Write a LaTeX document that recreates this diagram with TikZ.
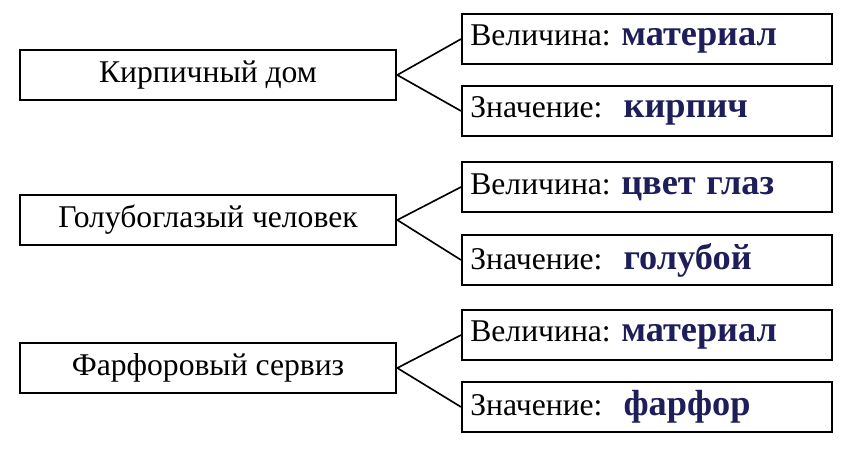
\documentclass[tikz,border=0pt]{standalone}
\usepackage{fontspec}
\setmainfont{Liberation Serif}
\definecolor{valblue}{RGB}{30,30,90}
\tikzset{every node/.style={draw=black, line width=1.6pt, fill=white, font=\fontsize{27}{30}\selectfont}}
\tikzset{objbox/.style={minimum width=11.3cm, minimum height=1.5cm}}
\tikzset{valbox/.style={minimum width=11.1cm, minimum height=1.5cm, text width=10.6cm, align=left}}
\newcommand{\valtext}[1]{{\fontsize{31}{32}\selectfont\bfseries\color{valblue}#1}}
\newcommand{\vel}[1]{Величина:\ \valtext{#1}}
\newcommand{\zn}[1]{Значение:\ \ \valtext{#1}}

\begin{document}
\begin{tikzpicture}[x=0.03cm, y=-0.03cm]
  \useasboundingbox (0,0) rectangle (842,454);
  \node (H) [objbox] at (208,75) {Кирпичный дом};
  \node (E) [objbox] at (208,220) {Голубоглазый человек};
  \node (P) [objbox] at (208,368) {Фарфоровый сервиз};

  \node (H1) [valbox] at (647,39) {\vel{материал}};
  \node (H2) [valbox] at (647,111) {\zn{кирпич}};
  \node (E1) [valbox] at (647,187) {\vel{цвет глаз}};
  \node (E2) [valbox] at (647,260) {\zn{голубой}};
  \node (P1) [valbox] at (647,335) {\vel{материал}};
  \node (P2) [valbox] at (647,407) {\zn{фарфор}};

  \draw[line width=1.4pt] (H1.west) -- (H.east) -- (H2.west);
  \draw[line width=1.4pt] (E1.west) -- (E.east) -- (E2.west);
  \draw[line width=1.4pt] (P1.west) -- (P.east) -- (P2.west);
\end{tikzpicture}
\end{document}
